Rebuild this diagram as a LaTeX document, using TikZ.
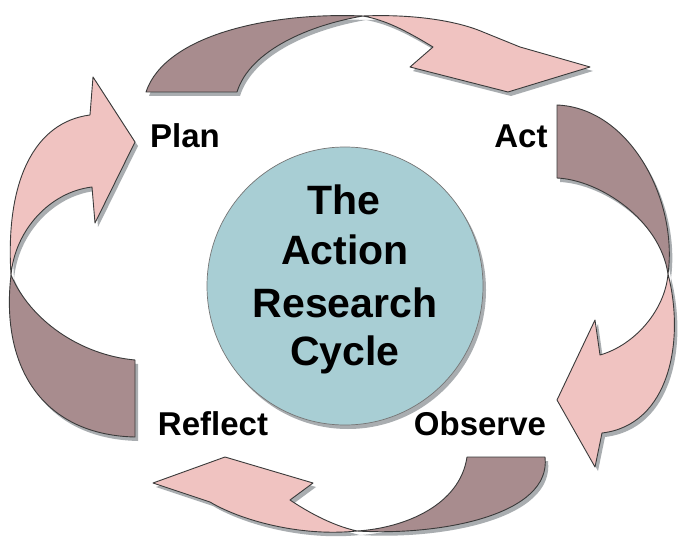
\documentclass[tikz,border=0pt]{standalone}
\usepackage{fontspec}
\setmainfont{Liberation Sans}
\usetikzlibrary{shapes.geometric}
\definecolor{darkc}{HTML}{A88C8E}
\definecolor{lightc}{HTML}{F0C3C1}
\definecolor{circc}{HTML}{A8CED4}
\definecolor{edgec}{HTML}{3A3A3A}
\definecolor{shadowc}{HTML}{A9ADB0}
\tikzset{
  darkpart/.style={fill=darkc, draw=edgec, line width=0.9pt, line join=round},
  lightpart/.style={fill=lightc, draw=edgec, line width=0.9pt, line join=round},
  shadowpart/.style={fill=shadowc, draw=none, shift={(3,4)}},
  stagelabel/.style={font=\fontsize{33}{36}\selectfont\bfseries, anchor=base, inner sep=0pt},
  titleline/.style={font=\fontsize{41}{48}\selectfont\bfseries, anchor=base, inner sep=0pt},
}
\def\pTopDark{(146,92) -- (237,92) .. controls (250,50) and (310,25) .. (363,16) .. controls (270,12) and (165,35) .. (146,92) -- cycle}
\def\pTopLight{(363,16) .. controls (410,14) and (455,20) .. (483,32) -- (520,47) -- (590,67) -- (508,92) -- (410,67) -- (433,47) .. controls (405,30) and (385,20) .. (363,16) -- cycle}
\def\pRightDark{(557,105) -- (557,178) .. controls (600,180) and (660,220) .. (668,274) .. controls (678,200) and (630,108) .. (557,105) -- cycle}
\def\pRightLight{(668,274) .. controls (685,340) and (670,425) .. (602,433) -- (595,467) -- (557,400) -- (595,320) -- (600,355) .. controls (635,345) and (665,310) .. (668,274) -- cycle}
\def\pLeftLight{(11,275) .. controls (5,180) and (35,122) .. (90,115) -- (93,77) -- (135,142) -- (95,223) -- (92,187) .. controls (50,192) and (15,230) .. (11,275) -- cycle}
\def\pLeftDark{(11,275) .. controls (0,370) and (45,435) .. (135,437) -- (135,360) .. controls (80,355) and (30,320) .. (11,275) -- cycle}
\def\pBottomDark{(545,457) -- (467,457) .. controls (460,505) and (405,528) .. (357,531) .. controls (440,536) and (552,515) .. (545,457) -- cycle}
\def\pBottomLight{(357,531) .. controls (330,525) and (305,510) .. (290,500) -- (313,483) -- (225,457) -- (153,483) -- (210,502) .. controls (240,520) and (300,537) .. (357,531) -- cycle}
\begin{document}
\begin{tikzpicture}[x=1pt, y=-1pt]
\useasboundingbox (0,0) rectangle (685,553);
\fill[white] (0,0) rectangle (685,553);
% shadows
\fill[shadowpart] \pTopDark;
\fill[shadowpart] \pTopLight;
\fill[shadowpart] \pRightDark;
\fill[shadowpart] \pRightLight;
\fill[shadowpart] \pLeftLight;
\fill[shadowpart] \pLeftDark;
\fill[shadowpart] \pBottomDark;
\fill[shadowpart] \pBottomLight;
% arrows
\draw[darkpart] \pTopDark;
\draw[lightpart] \pTopLight;
\draw[darkpart] \pRightDark;
\draw[lightpart] \pRightLight;
\draw[lightpart] \pLeftLight;
\draw[darkpart] \pLeftDark;
\draw[darkpart] \pBottomDark;
\draw[lightpart] \pBottomLight;
% centre circle
\fill[shadowc] (348,290) ellipse[x radius=138, y radius=139];
\node[draw=edgec!70, line width=0.7pt, fill=circc, ellipse, minimum width=276pt, minimum height=278pt, inner sep=0pt] (cycle) at (345,286) {};
\node[titleline] (t1) at (344,215) {The};
\node[titleline] (t2) at (345,265) {Action};
\node[titleline] (t3) at (345,317) {Research};
\node[titleline] (t4) at (345,365) {Cycle};
% stage labels
\node[stagelabel] (plan) at (185,148) {Plan};
\node[stagelabel] (act) at (521,148) {Act};
\node[stagelabel] (reflect) at (213,435) {Reflect};
\node[stagelabel] (observe) at (480,435) {Observe};
\end{tikzpicture}
\end{document}
